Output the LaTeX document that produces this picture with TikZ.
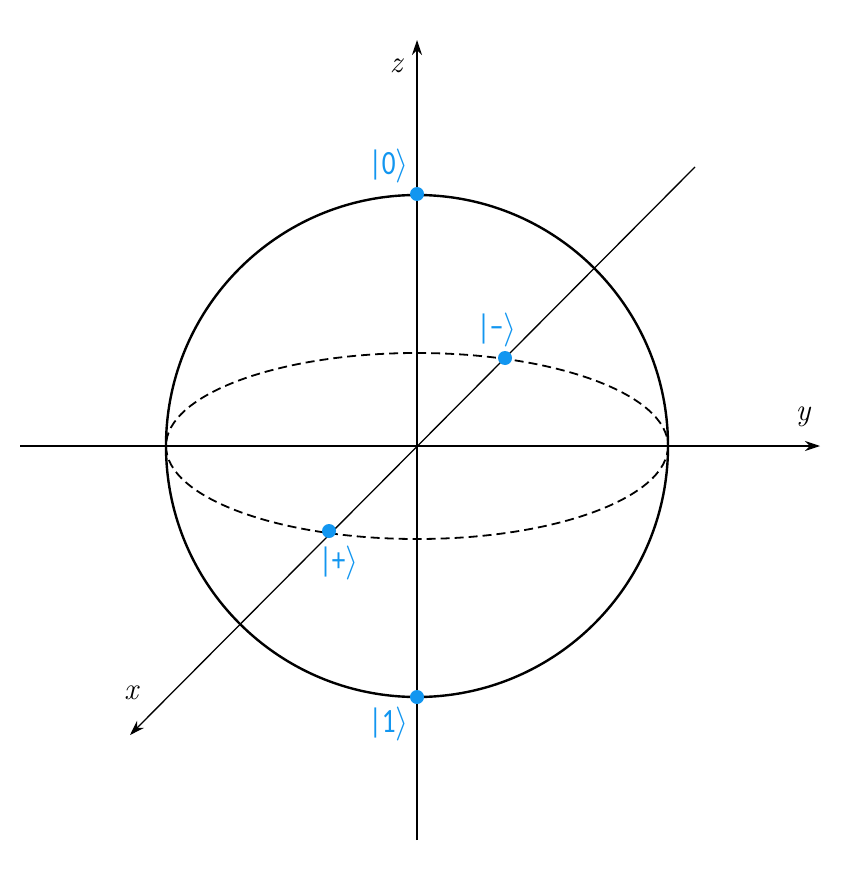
\documentclass[tikz,border=0pt]{standalone}
\usepackage{fix-cm}
\usepackage{fontspec}
\newfontfamily\ketfont[FakeStretch=0.8]{Carlito}
\usetikzlibrary{arrows.meta}
\definecolor{ketblue}{RGB}{18,150,240}
\newcommand{\kt}[1]{{\ketfont|#1}$\rangle$}
\begin{document}
\begin{tikzpicture}[x=1pt,y=-1pt,
  axis/.style={line width=1.3pt,-{Stealth[length=15pt,width=10pt]}},
  ketlbl/.style={text=ketblue,font=\ketfont\fontsize{34}{36}\selectfont,inner sep=0pt},
  axlbl/.style={font=\fontsize{31}{34}\selectfont\itshape,inner sep=0pt},
  dot/.style={circle,fill=ketblue,minimum size=14pt,inner sep=0pt}]
\useasboundingbox[fill=white] (0,0) rectangle (840,882);
\coordinate (O) at (417,446);
\coordinate (zb) at (417,840);
\coordinate (zt) at (417,40);
\coordinate (yl) at (20,446);
\coordinate (yr) at (820,446);
\coordinate (xt) at (695,167);
\coordinate (xb) at (130,735);
\draw[line width=2.4pt] (O) circle[radius=251];
\draw[line width=1.8pt,dash pattern=on 9pt off 5pt] (O) ellipse[x radius=251,y radius=93];
\draw[axis] (zb) -- (zt);
\draw[axis] (yl) -- (yr);
\draw[axis] (xt) -- (xb);
\node[axlbl] (zl) at (396,66) {z};
\node[axlbl] (yl2) at (803,417) {y};
\node[axlbl] (xl) at (131,693) {x};
\node[dot] (p0) at (417,194) {};
\node[dot] (p1) at (417,697) {};
\node[dot] (pm) at (505,358) {};
\node[dot] (pp) at (329,531) {};
\node[ketlbl] (k0) at (389,166) {\kt{0}};
\node[ketlbl] (k1) at (389,724) {\kt{1}};
\node[ketlbl] (km) at (497,330) {\kt{−}};
\node[ketlbl] (kp) at (339,563) {\kt{+}};
\end{tikzpicture}
\end{document}
